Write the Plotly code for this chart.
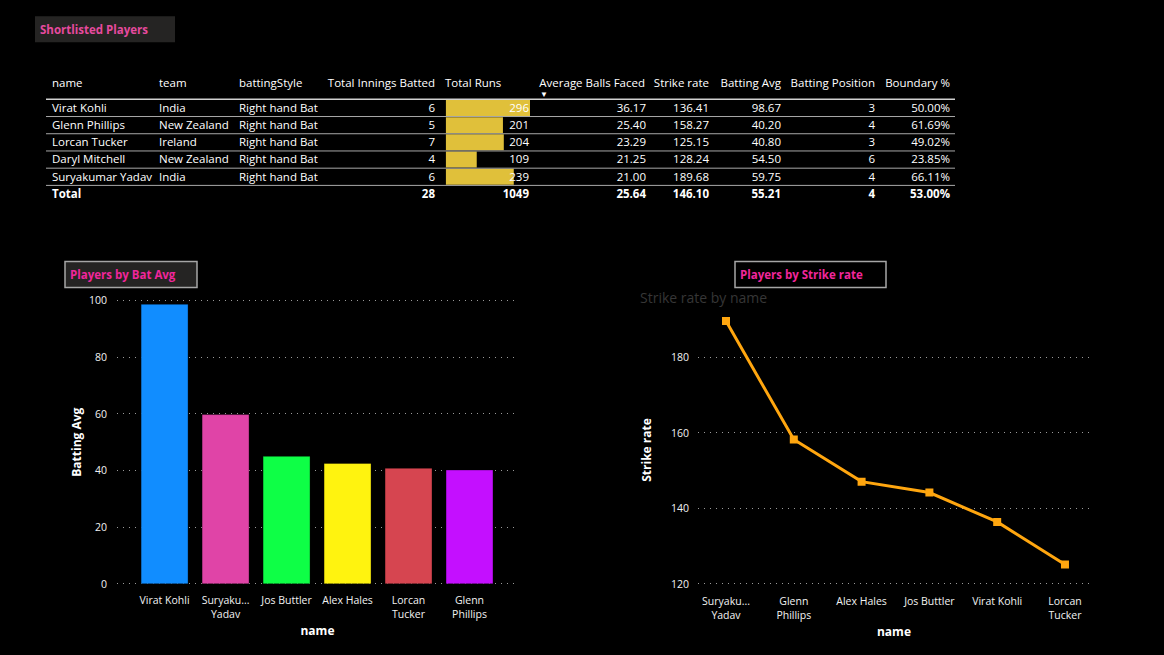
import plotly.graph_objects as go

W, H = 1164, 655
FONT = "Open Sans"

# ---------------- table data ----------------
table_headers = ["name", "team", "battingStyle", "Total Innings Batted", "Total Runs",
                 "Average Balls Faced", "Strike rate", "Batting Avg", "Batting Position", "Boundary %"]
player_names = ["Virat Kohli", "Glenn Phillips", "Lorcan Tucker", "Daryl Mitchell", "Suryakumar Yadav"]
teams = ["India", "New Zealand", "Ireland", "New Zealand", "India"]
batting_styles = ["Right hand Bat", "Right hand Bat", "Right hand Bat", "Right hand Bat", "Right hand Bat"]
innings = [6, 5, 7, 4, 6]
total_runs = [296, 201, 204, 109, 239]
avg_balls = [36.17, 25.40, 23.29, 21.25, 21.00]
strike_rates = [136.41, 158.27, 125.15, 128.24, 189.68]
batting_avgs = [98.67, 40.20, 40.80, 54.50, 59.75]
batting_pos = [3, 4, 3, 6, 4]
boundary_pct = [50.00, 61.69, 49.02, 23.85, 66.11]

total_label = "Total"
total_innings = 28
total_runs_sum = 1049
total_avg_balls = 25.64
total_strike_rate = 146.10
total_batting_avg = 55.21
total_batting_pos = 4
total_boundary_pct = 53.00

# ---------------- bar chart data ----------------
bat_names = ["Virat Kohli", "Suryakumar Yadav", "Jos Buttler", "Alex Hales", "Lorcan Tucker", "Glenn Phillips"]
bat_labels = ["Virat Kohli", "Suryaku...<br>Yadav", "Jos Buttler", "Alex Hales", "Lorcan<br>Tucker", "Glenn<br>Phillips"]
bat_avg_values = [98.67, 59.75, 45.0, 42.5, 40.80, 40.20]
bat_colors = ["#118DFF", "#E044A7", "#0EFF46", "#FFF30F", "#D64550", "#C40FFF"]
bat_ticks = [0, 20, 40, 60, 80, 100]

# ---------------- line chart data ----------------
sr_names = ["Suryakumar Yadav", "Glenn Phillips", "Alex Hales", "Jos Buttler", "Virat Kohli", "Lorcan Tucker"]
sr_labels = ["Suryaku...<br>Yadav", "Glenn<br>Phillips", "Alex Hales", "Jos Buttler", "Virat Kohli", "Lorcan<br>Tucker"]
sr_values = [189.68, 158.27, 147.1, 144.2, 136.41, 125.15]
sr_ticks = [120, 140, 160, 180]

# vertical correction between layout pixels and the photographed page
Y_SCALE, Y_SHIFT = 0.9867, 3.8


def fx(px):
    return px / W


def fy(py):
    return 1 - ((py - Y_SHIFT) / Y_SCALE) / H


def b(s):
    return "<b>" + s + "</b>"


f2 = lambda v: f"{v:.2f}"
pct = lambda v: f"{v:.2f}%"

table_columns = [
    player_names + [b(total_label)],
    teams + [""],
    batting_styles + [""],
    [str(v) for v in innings] + [b(str(total_innings))],
    [str(v) for v in total_runs] + [b(str(total_runs_sum))],
    [f2(v) for v in avg_balls] + [b(f2(total_avg_balls))],
    [f2(v) for v in strike_rates] + [b(f2(total_strike_rate))],
    [f2(v) for v in batting_avgs] + [b(f2(total_batting_avg))],
    [str(v) for v in batting_pos] + [b(str(total_batting_pos))],
    [pct(v) for v in boundary_pct] + [b(pct(total_boundary_pct))],
]

# ---- table layout (pixels) ----
TABLE_TOP, HEADER_H, ROW_H = 67, 32, 17.2
TEXT_DY = 1.0 / ROW_H          # nudge text 1px down inside its row
n_rows = len(player_names) + 1
TABLE_BOTTOM = TABLE_TOP + HEADER_H + ROW_H * n_rows
row_axis_top = -0.5 - HEADER_H / ROW_H
header_row = -0.5 - 16 / ROW_H + TEXT_DY
cell_anchor = [52, 159, 239, 435, 529, 646, 709, 781, 875, 950]
cell_pos = ["middle right"] * 3 + ["middle left"] * 7
hdr_anchor = [52, 159, 239, 435, 445, 645, 709, 781, 875, 950]
hdr_pos = ["middle right"] * 3 + ["middle left", "middle right"] + ["middle left"] * 5
TABLE_FONT = dict(family=FONT, size=11.5, color="#ffffff")

fig = go.Figure()

# data bars inside the "Total Runs" column
fig.add_trace(go.Bar(
    x=total_runs, y=list(range(len(player_names))), orientation="h",
    marker=dict(color="#E0C03A", line=dict(width=0)), width=0.93,
    xaxis="x3", yaxis="y4", hoverinfo="skip", showlegend=False,
))

# table header
fig.add_trace(go.Scatter(
    x=hdr_anchor, y=[header_row] * len(table_headers), text=table_headers, mode="text",
    textposition=hdr_pos, textfont=TABLE_FONT, xaxis="x4", yaxis="y4",
    hoverinfo="skip", showlegend=False,
))
# table cells, one trace per column
for col, anchor, pos in zip(table_columns, cell_anchor, cell_pos):
    fig.add_trace(go.Scatter(
        x=[anchor] * len(col), y=[i + TEXT_DY for i in range(len(col))], text=col, mode="text",
        textposition=pos, textfont=TABLE_FONT, xaxis="x4", yaxis="y4",
        hoverinfo="skip", showlegend=False,
    ))

# bar chart: batting average
fig.add_trace(go.Bar(
    x=bat_names, y=bat_avg_values,
    marker=dict(color=bat_colors, line=dict(color="rgba(0,0,0,0.35)", width=1)),
    width=0.77, xaxis="x", yaxis="y", showlegend=False,
))

# line chart: strike rate
fig.add_trace(go.Scatter(
    x=sr_names, y=sr_values, mode="lines+markers",
    line=dict(color="#FFA60F", width=3),
    marker=dict(symbol="square", size=8, color="#FFA60F"),
    xaxis="x2", yaxis="y2", showlegend=False,
))

tick_font = dict(family=FONT, size=10.5, color="#f2f2f2")
title_font = dict(family=FONT, size=12, color="#ffffff", weight="bold")
grid = dict(showgrid=True, gridcolor="#9a9a9a", griddash="1px,5px", gridwidth=1, zeroline=False)

shapes = []
# row separator lines of the table
for i in range(n_rows):
    yy = i - 0.5
    shapes.append(dict(type="line", xref="x4", yref="y4", x0=46, x1=955, y0=yy, y1=yy,
                       line=dict(color="#d0d0d0" if i == 0 else "#a8a8a8", width=1.5 if i == 0 else 1)))
# title boxes
shapes.append(dict(type="rect", xref="paper", yref="paper", x0=fx(35), x1=fx(175), y0=fy(42), y1=fy(16),
                   fillcolor="#252423", line=dict(width=0), layer="below"))
shapes.append(dict(type="rect", xref="paper", yref="paper", x0=fx(65), x1=fx(197), y0=fy(287), y1=fy(261),
                   fillcolor="#252423", line=dict(color="#a6a6a6", width=1.5), layer="below"))
shapes.append(dict(type="rect", xref="paper", yref="paper", x0=fx(735), x1=fx(886), y0=fy(287), y1=fy(261),
                   fillcolor="#000000", line=dict(color="#a6a6a6", width=1.5), layer="below"))

annotations = [
    dict(text="<b>Shortlisted Players</b>", x=fx(38), y=fy(29), xref="paper", yref="paper",
         xanchor="left", yanchor="middle", showarrow=False, font=dict(family=FONT, size=11.5, color="#E64A9E")),
    dict(text="<b>Players by Bat Avg</b>", x=fx(68), y=fy(274), xref="paper", yref="paper",
         xanchor="left", yanchor="middle", showarrow=False, font=dict(family=FONT, size=11.5, color="#F0269B")),
    dict(text="<b>Players by Strike rate</b>", x=fx(738), y=fy(274), xref="paper", yref="paper",
         xanchor="left", yanchor="middle", showarrow=False, font=dict(family=FONT, size=11.5, color="#F0269B")),
    dict(text="Strike rate by name", x=fx(638), y=fy(297), xref="paper", yref="paper",
         xanchor="left", yanchor="middle", showarrow=False, font=dict(family=FONT, size=14, color="#363636")),
    dict(text="▼", x=fx(544), y=fy(93), xref="paper", yref="paper",
         xanchor="center", yanchor="middle", showarrow=False, font=dict(family=FONT, size=8, color="#ffffff")),
]

fig.update_layout(
    width=W, height=H, margin=dict(l=0, r=0, t=0, b=0),
    paper_bgcolor="#000000", plot_bgcolor="rgba(0,0,0,0)",
    font=dict(family=FONT, color="#ffffff"),
    shapes=shapes, annotations=annotations,
    xaxis=dict(domain=[fx(117), fx(518)], range=[-0.78, 5.795], tickvals=bat_names, ticktext=bat_labels,
               tickfont=tick_font, showgrid=False, zeroline=False, ticks="", ticklabelstandoff=6,
               title=dict(text="name", font=title_font, standoff=6), anchor="y", fixedrange=True),
    yaxis=dict(domain=[fy(583 + 2.83), fy(300 - 2.83)], range=[-1, 101], tickvals=bat_ticks,
               tickfont=tick_font, ticks="", ticklabelstandoff=9,
               title=dict(text="Batting Avg", font=title_font, standoff=4), anchor="x", fixedrange=True, **grid),
    xaxis2=dict(domain=[fx(698), fx(1090)], range=[-0.413, 5.369], tickvals=sr_names, ticktext=sr_labels,
                tickfont=tick_font, showgrid=False, zeroline=False, ticks="", ticklabelstandoff=6,
                title=dict(text="name", font=title_font, standoff=6), anchor="y2", fixedrange=True),
    yaxis2=dict(domain=[fy(583 + 3.767), fy(583 - 72 * 3.767)], range=[119, 192], tickvals=sr_ticks,
                tickfont=tick_font, ticks="", ticklabelstandoff=8,
                title=dict(text="Strike rate", font=title_font, standoff=16), anchor="x2", fixedrange=True, **grid),
    xaxis3=dict(domain=[fx(445.7), fx(530)], range=[0, max(total_runs)], visible=False, anchor="y4",
                fixedrange=True),
    xaxis4=dict(domain=[0, 1], range=[0, W], visible=False, anchor="y4", fixedrange=True),
    yaxis4=dict(domain=[fy(TABLE_BOTTOM), fy(TABLE_TOP)], range=[n_rows - 0.5, row_axis_top],
                visible=False, anchor="x4", fixedrange=True),
)

page_css = ("document.documentElement.style.margin='0';document.documentElement.style.background='#000';"
            "document.body.style.margin='0';document.body.style.background='#000';")
fig.write_html("out.html", config={"displayModeBar": False}, post_script=page_css)
